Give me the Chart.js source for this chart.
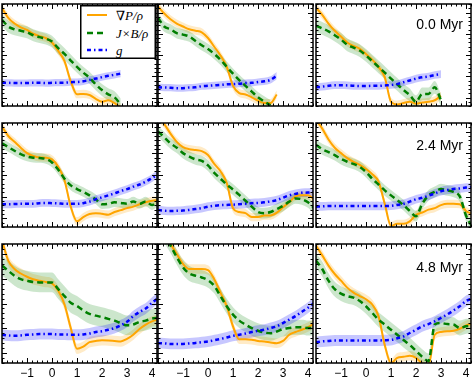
<!DOCTYPE html>
<html><head><meta charset="utf-8">
<script src="https://cdn.jsdelivr.net/npm/chart.js@4"></script>
<style>
html,body{margin:0;padding:0;background:#fff;width:474px;height:377px;overflow:hidden;position:relative}
canvas{position:absolute}
.myr{position:absolute;font-family:'Liberation Sans',Arial,sans-serif;font-size:14px;color:#000;line-height:16px;right:11px;z-index:4;white-space:nowrap}
#legend{position:absolute;left:80px;top:5px;z-index:5}
</style></head><body>
<svg id="legend" width="76" height="54"></svg>
<script>
const xs = [-2,-1.75,-1.5,-1.25,-1,-0.75,-0.5,-0.25,0,0.25,0.5,0.75,1,1.25,1.5,1.75,2,2.25,2.5,2.75,3,3.25,3.5,3.75,4,4.25];
const xTickLabels = [-1,0,1,2,3,4];
const timeLabels = ['0.0 Myr','2.4 Myr','4.8 Myr'];
const seriesNames = ['\u2207P/\u03c1','J\u00d7B/\u03c1','g'];

// row 1 (0.0 Myr)
const gradP_1 = [4.21,3.75,3.48,3.30,3.18,3.00,2.89,2.80,2.59,2.19,1.71,0.76,0.15,0.17,0.12,-0.06,-0.20,-0.13,-0.26,-0.47,null,null,null,null,null,null];
const jxb_1   = [3.65,3.34,3.21,3.14,3.07,2.93,2.84,2.77,2.63,2.32,2.05,1.74,1.44,1.17,0.93,0.62,0.35,0.15,0.01,-0.33,null,null,null,null,null,null];
const grav_1  = [0.69,0.69,0.68,0.68,0.68,0.69,0.69,0.68,0.69,0.70,0.70,0.72,0.73,0.76,0.83,0.89,0.96,1.02,1.07,1.12,null,null,null,null,null,null];
const gradP_2 = [4.29,3.95,3.68,3.48,3.34,3.21,3.14,3.07,2.80,2.39,1.98,1.44,0.55,0.21,0.14,0.01,-0.15,-0.26,-0.26,0.14,null,null,null,null,null,null];
const jxb_2   = [3.75,3.34,3.21,3.03,2.96,2.87,2.66,2.46,2.28,2.05,1.78,1.44,1.12,0.82,0.55,0.28,0.01,-0.19,-0.37,null,null,null,null,null,null,null];
const grav_2  = [0.48,0.47,0.46,0.44,0.44,0.47,0.48,0.53,0.55,0.57,0.59,0.62,0.63,0.65,0.68,0.69,0.73,0.76,0.83,1.03,null,null,null,null,null,null];
const gradP_3 = [4.23,3.89,3.48,3.14,2.87,2.59,2.43,2.29,2.05,1.78,1.44,0.96,-0.20,-0.33,-0.26,-0.20,-0.29,-0.24,-0.20,-0.13,0.08,null,null,null,null,null];
const jxb_3   = [3.38,3.25,3.11,2.93,2.73,2.48,2.35,2.21,1.98,1.71,1.44,1.17,0.89,0.62,0.35,0.12,-0.20,0.17,0.17,0.48,-0.13,null,null,null,null,null];
const grav_3  = [0.48,0.51,0.55,0.58,0.58,0.57,0.55,0.54,0.54,0.55,0.55,0.57,0.59,0.63,0.72,0.80,0.89,0.95,0.99,1.06,1.10,null,null,null,null,null];
// row 2 (2.4 Myr)
const gradP_4 = [4.24,3.80,3.53,3.26,3.01,2.88,2.81,2.80,2.72,2.38,1.76,0.54,-0.14,0.06,0.20,0.24,0.21,0.17,0.29,0.38,0.47,0.54,0.65,0.74,0.81,0.84];
const jxb_4   = [3.46,3.29,3.12,2.96,2.85,2.80,2.78,2.74,2.58,2.24,1.83,1.52,1.35,1.22,1.06,0.88,0.65,0.67,0.74,0.71,0.67,0.78,0.67,0.78,0.61,0.81];
const grav_4  = [0.65,0.65,0.66,0.67,0.67,0.67,0.70,0.71,0.70,0.69,0.67,0.67,0.67,0.70,0.77,0.88,0.97,1.06,1.15,1.26,1.35,1.46,1.56,1.69,1.86,2.04];
const gradP_5 = [4.70,4.35,3.91,3.53,3.29,3.19,3.15,3.10,2.92,2.51,2.17,1.63,0.47,0.29,0.24,0.06,0.06,0.13,0.13,0.26,0.51,0.74,1.01,1.06,1.06,0.88];
const jxb_5   = [4.01,3.74,3.46,3.26,3.01,2.85,2.72,2.65,2.44,2.10,1.83,1.56,1.33,1.08,0.81,0.54,0.29,0.24,0.29,0.43,0.57,0.77,0.92,0.88,0.74,0.47];
const grav_5  = [0.38,0.35,0.34,0.35,0.36,0.39,0.43,0.47,0.54,0.58,0.61,0.62,0.63,0.65,0.67,0.70,0.71,0.74,0.78,0.84,0.95,1.06,1.13,1.18,1.19,1.22];
const gradP_6 = [4.55,4.14,3.64,3.26,3.01,2.78,2.61,2.47,2.28,2.04,1.70,0.67,-0.35,-0.25,-0.25,-0.14,0.16,0.27,0.40,0.47,0.61,0.67,0.67,0.65,0.34,0.20];
const jxb_6   = [3.40,3.19,3.06,2.92,2.74,2.61,2.51,2.38,2.14,1.83,1.56,1.29,1.06,0.84,0.61,0.34,0.10,0.67,1.06,1.22,1.35,1.29,1.22,1.01,0.13,-0.40];
const grav_6  = [0.54,0.55,0.57,0.57,0.57,0.57,0.57,0.57,0.57,0.57,0.57,0.57,0.58,0.62,0.67,0.77,0.88,0.95,1.04,1.15,1.25,1.31,1.35,1.38,1.42,1.44];
// row 3 (4.8 Myr)
const gradP_7 = [4.55,3.73,3.39,3.21,3.08,2.98,2.92,2.87,2.81,2.51,1.96,1.01,0.17,0.26,0.44,0.49,0.52,0.51,0.49,0.47,0.57,0.74,0.97,1.15,1.28,1.35];
const jxb_7   = [3.53,3.32,3.12,2.98,2.92,2.87,2.85,2.85,2.85,2.58,2.30,2.03,1.90,1.72,1.58,1.51,1.45,1.38,1.31,1.21,1.12,1.15,1.26,1.31,1.39,1.42];
const grav_7  = [0.74,0.71,0.70,0.71,0.74,0.75,0.77,0.77,0.77,0.75,0.75,0.74,0.74,0.75,0.79,0.85,0.88,0.94,1.01,1.12,1.26,1.49,1.66,1.80,2.03,2.23];
const gradP_8 = [5.20,4.90,4.41,4.00,3.60,3.39,3.39,3.39,3.35,2.98,2.44,1.89,1.08,0.56,0.56,0.54,0.49,0.47,0.43,0.40,0.49,0.74,0.85,0.94,1.05,1.18];
const jxb_8   = [5.20,4.75,4.34,3.87,3.46,3.21,3.12,3.05,2.94,2.71,2.30,1.89,1.55,1.31,1.15,1.01,0.90,0.83,0.80,0.87,0.97,1.01,1.04,1.04,1.01,1.01];
const grav_8  = [0.40,0.39,0.37,0.37,0.37,0.39,0.41,0.44,0.47,0.52,0.57,0.63,0.70,0.74,0.79,0.85,0.90,0.94,1.01,1.08,1.21,1.35,1.49,1.66,1.83,2.03];
const gradP_9 = [4.34,3.94,3.53,3.19,2.92,2.64,2.44,2.30,2.17,1.96,1.49,0.33,-0.42,-0.19,-0.15,-0.11,-0.19,-0.42,-0.49,0.74,0.85,0.88,0.90,0.98,1.12,1.20];
const jxb_9   = [3.73,3.39,2.92,2.58,2.40,2.30,2.24,2.10,1.89,1.62,1.35,1.15,0.94,0.74,0.53,0.33,0.09,-0.15,-0.32,1.15,1.21,1.17,1.15,1.01,1.08,1.10];
const grav_9  = [0.44,0.47,0.49,0.51,0.51,0.51,0.51,0.51,0.51,0.51,0.51,0.52,0.53,0.60,0.67,0.81,0.94,1.08,1.17,1.28,1.42,1.56,1.72,1.89,2.10,2.20];

// shaded band half-widths per panel
const errP = [0.19,0.19,0.19,0.19,0.19,0.19,0.21,0.19,0.19];
const errJ = [0.28,0.25,0.30,0.22,0.25,0.25,0.40,0.30,0.30];
const errG = [0.17,0.17,0.18,0.18,0.20,0.20,0.22,0.22,0.22];

const gradPs = [gradP_1,gradP_2,gradP_3,gradP_4,gradP_5,gradP_6,gradP_7,gradP_8,gradP_9];
const jxbs   = [jxb_1,jxb_2,jxb_3,jxb_4,jxb_5,jxb_6,jxb_7,jxb_8,jxb_9];
const gravs  = [grav_1,grav_2,grav_3,grav_4,grav_5,grav_6,grav_7,grav_8,grav_9];

const colLeft = [2,158,316], colRight = [157,313,471];
const rowTop = [4,123,244], rowBottom = [120,241,363];

const C_P = '#ffa500', C_J = '#007f00', C_G = '#0000ff';
const B_P = 'rgba(255,165,0,0.22)', B_J = 'rgba(0,128,0,0.2)', B_G = 'rgba(0,0,255,0.22)';

function pts(vals, off) {
  return xs.map((x, i) => ({x: x, y: vals[i] == null ? null : vals[i] + off}));
}

const frameTicks = {
  id: 'frameTicks',
  afterDatasetsDraw(chart) {
    const {ctx, chartArea: a, scales} = chart;
    const x = scales.x, y = scales.y;
    ctx.save();
    ctx.strokeStyle = '#000';
    ctx.lineWidth = 1;
    ctx.beginPath();
    for (let k = -10; k <= 21; k++) {
      const px = Math.round(x.getPixelForValue(k / 5)) + 0.5;
      const L = (k % 5 === 0) ? 5 : 2.5;
      ctx.moveTo(px, a.bottom); ctx.lineTo(px, a.bottom - L);
      ctx.moveTo(px, a.top); ctx.lineTo(px, a.top + L);
    }
    for (let k = -2; k <= 22; k++) {
      const py = Math.round(y.getPixelForValue(k / 5)) + 0.5;
      const L = (k % 5 === 0) ? 5 : 2.5;
      ctx.moveTo(a.left, py); ctx.lineTo(a.left + L, py);
      ctx.moveTo(a.right, py); ctx.lineTo(a.right - L, py);
    }
    ctx.stroke();
    ctx.lineWidth = 1.5;
    ctx.strokeRect(a.left, a.top, a.right - a.left, a.bottom - a.top);
    ctx.restore();
  }
};

for (let r = 0; r < 3; r++) {
  for (let c = 0; c < 3; c++) {
    const k = r * 3 + c;
    const bottomRow = (r === 2);
    const W = colRight[c] - colLeft[c], H = rowBottom[r] - rowTop[r];
    const cv = document.createElement('canvas');
    const cw = W + 6, ch = bottomRow ? H + 3 + 14 : H + 6;
    cv.width = cw; cv.height = ch;
    cv.style.left = (colLeft[c] - 3) + 'px';
    cv.style.top = (rowTop[r] - 3) + 'px';
    cv.style.width = cw + 'px'; cv.style.height = ch + 'px';
    document.body.appendChild(cv);

    const P = gradPs[k], J = jxbs[k], G = gravs[k];
    const bandBase = {borderWidth: 0, pointRadius: 0, cubicInterpolationMode: 'monotone', clip: 0};
    const datasets = [
      Object.assign({}, bandBase, {data: pts(P, -errP[k]), fill: false, order: 12}),
      Object.assign({}, bandBase, {data: pts(P, errP[k]), fill: {target: 0}, backgroundColor: B_P, order: 12}),
      Object.assign({}, bandBase, {data: pts(J, -errJ[k]), fill: false, order: 11}),
      Object.assign({}, bandBase, {data: pts(J, errJ[k]), fill: {target: 2}, backgroundColor: B_J, order: 11}),
      Object.assign({}, bandBase, {data: pts(G, -errG[k]), fill: false, order: 10}),
      Object.assign({}, bandBase, {data: pts(G, errG[k]), fill: {target: 4}, backgroundColor: B_G, order: 10}),
      {label: seriesNames[0], data: pts(P, 0), borderColor: C_P, borderWidth: 2, pointRadius: 0, fill: false, cubicInterpolationMode: 'monotone', clip: 0, order: 3},
      {label: seriesNames[1], data: pts(J, 0), borderColor: C_J, borderWidth: 2.5, borderDash: [6, 4], pointRadius: 0, fill: false, cubicInterpolationMode: 'monotone', clip: 0, order: 2},
      {label: seriesNames[2], data: pts(G, 0), borderColor: C_G, borderWidth: 2.5, borderDash: [4, 3, 1.5, 3], pointRadius: 0, fill: false, cubicInterpolationMode: 'monotone', clip: 0, order: 1}
    ];

    new Chart(cv, {
      type: 'line',
      data: {datasets: datasets},
      options: {
        responsive: false, animation: false, devicePixelRatio: 1,
        layout: {padding: {left: 3, right: 3, top: 3, bottom: bottomRow ? 0 : 3}},
        plugins: {legend: {display: false}, tooltip: {enabled: false}},
        elements: {point: {radius: 0}},
        scales: {
          x: {
            type: 'linear', min: -2, max: 4.2, display: bottomRow,
            grid: {display: false, drawTicks: false}, border: {display: false},
            ticks: {
              stepSize: 1, includeBounds: false, autoSkip: false, maxRotation: 0, padding: 3,
              color: '#000', font: {family: "'Liberation Sans', Arial, sans-serif", size: 12},
              callback: v => xTickLabels.includes(v) ? String(v).replace('-', '\u2212') : ''
            },
            afterFit: s => { s.height = 14; }
          },
          y: {type: 'linear', min: -0.4, max: 4.4, display: false}
        }
      },
      plugins: [frameTicks]
    });
  }
  const lab = document.createElement('div');
  lab.className = 'myr';
  lab.textContent = timeLabels[r];
  lab.style.top = [16, 137, 259][r] + 'px';
  document.body.appendChild(lab);
}

// legend
const svgNS = 'http://www.w3.org/2000/svg';
const leg = document.getElementById('legend');
function el(tag, attrs, text) {
  const e = document.createElementNS(svgNS, tag);
  for (const k in attrs) e.setAttribute(k, attrs[k]);
  if (text) e.textContent = text;
  leg.appendChild(e);
  return e;
}
el('rect', {x: 0.75, y: 0.75, width: 74.5, height: 52.5, fill: '#fff', stroke: '#000', 'stroke-width': 1.5});
const legColors = [C_P, C_J, C_G];
const legDash = ['', '6 4', '4 3 1.5 3'];
const legW = [2, 2.5, 2.5];
const legY = [10, 28, 45];
for (let i = 0; i < 3; i++) {
  const attrs = {x1: 7, y1: legY[i], x2: 27, y2: legY[i], stroke: legColors[i], 'stroke-width': legW[i]};
  if (legDash[i]) attrs['stroke-dasharray'] = legDash[i];
  el('line', attrs);
  el('text', {x: 36, y: legY[i] + 4.5, 'font-family': "'Liberation Serif', 'DejaVu Serif', serif", 'font-style': 'italic', 'font-size': 13, fill: '#000'}, seriesNames[i]);
}
</script>
</body></html>
